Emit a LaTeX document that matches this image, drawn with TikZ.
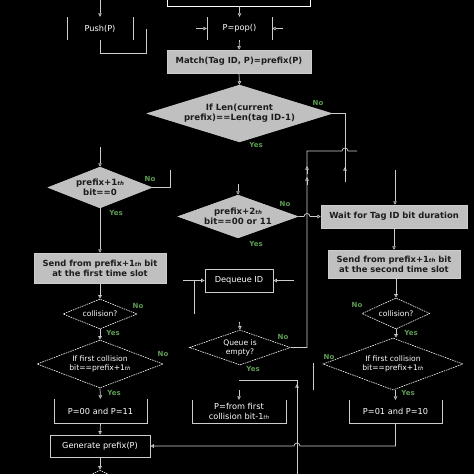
\documentclass[tikz,border=0pt]{standalone}
\usepackage{fontspec}
\setmainfont{DejaVu Sans}
\usetikzlibrary{shapes.geometric,arrows.meta}
\definecolor{boxgray}{RGB}{192,192,192}
\definecolor{linegray}{RGB}{205,205,205}
\definecolor{lblgreen}{RGB}{95,155,85}
\definecolor{txtdark}{RGB}{28,28,28}
\newcommand{\thsup}{{\fontsize{5.5}{5.5}\selectfont\itshape th}}
\begin{document}
\begin{tikzpicture}[x=1pt,y=-1pt,
  conn/.style={draw=linegray,line width=0.7pt},
  arr/.style={conn,-{Triangle[open,length=3.5pt,width=3.5pt]}},
  graybox/.style={draw=linegray,line width=0.5pt,fill=boxgray,text=txtdark,
    font=\fontsize{8.4}{10}\selectfont\bfseries,inner sep=1pt,align=center},
  darkbox/.style={fill=black,text=white,font=\fontsize{8.2}{9.5}\selectfont,
    inner sep=1pt,align=center},
  graydia/.style={diamond,draw=linegray,line width=0.5pt,fill=boxgray,inner sep=0pt},
  darkdia/.style={diamond,draw=white,line width=0.6pt,dash pattern=on 1.6pt off 0.9pt,
    fill=black,inner sep=0pt},
  gtxt/.style={text=txtdark,font=\fontsize{8.6}{10.2}\selectfont\bfseries,align=center,inner sep=0pt},
  wtxt/.style={text=white,font=\fontsize{7.6}{9}\selectfont,align=center,inner sep=0pt},
  lbl/.style={text=lblgreen,font=\fontsize{7}{7}\selectfont\bfseries,inner sep=0pt}]
\useasboundingbox (0,0) rectangle (474,474);
\fill[black] (0,0) rectangle (474,474);
\clip (0,0) rectangle (474,474);

% ---- top row ----
\node[darkbox,draw=white,line width=0.6pt,minimum width=143pt,minimum height=20pt] (top) at (238.5,-4) {};
\node[darkbox,minimum width=66pt,minimum height=23pt] (push) at (100,28.5) {Push(P)};
\draw[linegray,line width=0.6pt] (push.north west) -- (push.south west) (push.north east) -- (push.south east);
\node[darkbox,minimum width=65pt,minimum height=23pt] (pop) at (239.5,28.5) {P=pop()};
\draw[linegray,line width=0.6pt] (pop.north west) -- (pop.south west) (pop.north east) -- (pop.south east);
\coordinate (pushin) at (100,-2);
\draw[arr] (pushin) -- (push.north);
\coordinate (pa1) at (100,53); \coordinate (pa2) at (146,53); \coordinate (pa3) at (146,29);
\draw[conn] (push.south) -- (pa1) -- (pa2) -- (pa3);
\coordinate (popl) at (196,28.5); \coordinate (popr) at (283,28.5);
\draw[arr] (popl) -- (pop.west);
\draw[arr] (popr) -- (pop.east);
\draw[arr] (top.south -| pop.north) -- (pop.north);

\node[graybox,minimum width=144pt,minimum height=23pt] (match) at (239,61.5) {Match(Tag ID, P)=prefix(P)};
\draw[arr] (pop.south) -- (match.north);

% ---- first decision ----
\node[graydia,minimum width=185pt,minimum height=57pt,
  label={[gtxt]center:If Len(current\\prefix)==Len(tag ID-1)}] (dia1) at (239.5,113.5) {};
\draw[arr] (match.south) -- (dia1.north);
\node[lbl] at (318,103) {No};
\node[lbl] at (256,145) {Yes};
\coordinate (d1a) at (345,113.5); \coordinate (d1b) at (345,182);
\draw[conn] (dia1.east) -- (d1a) -- (d1b);

% ---- left branch ----
\coordinate (d2in) at (100,147);
\node[graydia,minimum width=104pt,minimum height=41pt,
  label={[gtxt]center:prefix+1\thsup\\bit==0}] (dia2) at (100,187.5) {};
\draw[arr] (d2in) -- (dia2.north);
\node[lbl] at (150,179) {No};
\node[lbl] at (116,213) {Yes};
\coordinate (d2a) at (170,187.5); \coordinate (d2b) at (170,170);
\draw[conn] (dia2.east) -- (d2a) -- (d2b);

\node[graybox,minimum width=132pt,minimum height=30pt] (send1) at (100,268)
  {Send from prefix+1\thsup{} bit\\at the first time slot};
\draw[arr] (dia2.south) -- (send1.north);

\node[darkdia,minimum width=74pt,minimum height=30pt,
  label={[wtxt]center:collision?}] (col1) at (100,314) {};
\draw[arr] (send1.south) -- (col1.north);
\node[lbl] at (138,306) {No};
\node[lbl] at (113,333) {Yes};

\node[darkdia,minimum width=126pt,minimum height=48pt,
  label={[wtxt]center:If first collision\\bit==prefix+1\thsup}] (if1) at (100,364) {};
\draw[arr] (col1.south) -- (if1.north);
\node[lbl] at (163,354) {No};
\node[lbl] at (114,393) {Yes};

\node[darkbox,minimum width=93pt,minimum height=24pt] (p00) at (100.5,411) {P=00 and P=11};
\draw[linegray,line width=0.6pt] (p00.north west) -- (p00.south west) -- (p00.south east) -- (p00.north east);
\draw[arr] (if1.south) -- (p00.north);

\node[darkbox,draw=linegray,line width=0.6pt,minimum width=100pt,minimum height=22pt] (gen) at (100,446) {Generate prefix(P)};
\draw[arr] (p00.south) -- (gen.north);
\node[darkdia,minimum width=60pt,minimum height=30pt] (nextd) at (100,485) {};
\draw[arr] (gen.south) -- (nextd.north);

% ---- middle branch ----
\coordinate (d3in) at (238,184);
\node[graydia,minimum width=120pt,minimum height=43pt,
  label={[gtxt]center:prefix+2\thsup\\bit==00 or 11}] (dia3) at (238,216.5) {};
\draw[arr] (d3in) -- (dia3.north);
\node[lbl] at (285,204) {No};
\node[lbl] at (256,244) {Yes};

\node[darkbox,draw=linegray,line width=0.8pt,minimum width=68pt,minimum height=23pt] (deq) at (239,280.5) {Dequeue ID};
\coordinate (dl) at (183,280.5); \coordinate (dlv) at (194,280.5); \coordinate (dlb) at (194,314);
\coordinate (dr) at (294,280.5);
\draw[arr] (dl) -- (deq.west);
\draw[conn] (dlv) -- (dlb);
\draw[arr] (dr) -- (deq.east);

\node[darkdia,minimum width=101pt,minimum height=35pt,
  label={[wtxt]center:Queue is\\empty?}] (q) at (240,347.5) {};
\coordinate (qin) at (239.5,322);
\draw[arr] (qin) -- (q.north);
\node[lbl] at (283,337) {No};
\node[lbl] at (253,369) {Yes};
\coordinate (qa) at (307,347.5); \coordinate (qb) at (307,151); \coordinate (qc) at (357,151);
\draw[conn] (q.east) -- (qa) -- (qb) -- (342,151) arc[start angle=180,end angle=360,radius=3] -- (qc);
\draw[arr] (307,174) -- (307,166);
\draw[arr] (307,185) -- (307,177);
\draw[arr] (345,175) -- (345,167);

\node[darkbox,minimum width=94pt,minimum height=23pt] (pfrom) at (239,411.5) {P=from first\\collision bit-1\thsup};
\draw[linegray,line width=0.6pt] (pfrom.north west) -- (pfrom.south west) -- (pfrom.south east) -- (pfrom.north east);
\coordinate (ya) at (297,476); \coordinate (yb) at (297,380); \coordinate (yc) at (239,380);
\draw[conn] (ya) -- (yb) -- (yc);
\draw[arr] (297,393) -- (297,384);
\coordinate (pfin) at (239,390);
\draw[arr] (pfin) -- (pfrom.north);

% ---- right branch ----
\node[graybox,minimum width=146pt,minimum height=23pt] (wait) at (394,216.5) {Wait for Tag ID bit duration};
\draw[arr] (dia3.east) -- (304,216.5) arc[start angle=180,end angle=360,radius=3] -- (wait.west);
\coordinate (win) at (395,170);
\draw[arr] (win) -- (wait.north -| win);

\node[graybox,minimum width=132pt,minimum height=28pt] (send2) at (394,264)
  {Send from prefix+1\thsup{} bit\\at the second time slot};
\draw[arr] (wait.south) -- (send2.north);

\node[darkdia,minimum width=68pt,minimum height=31pt,
  label={[wtxt]center:collision?}] (col2) at (396,313.5) {};
\draw[arr] (send2.south -| col2.north) -- (col2.north);
\node[lbl] at (357,305) {No};
\node[lbl] at (411,333) {Yes};

\node[darkdia,minimum width=140pt,minimum height=52pt,
  label={[wtxt]center:If first collision\\bit==prefix+1\thsup}] (if2) at (393,364) {};
\draw[arr] (col2.south) -- (col2.south |- if2.north);
\node[lbl] at (329,357) {No};
\node[lbl] at (408,393) {Yes};
\coordinate (ifa) at (313,363); \coordinate (ifb) at (313,390);
\draw[conn] (ifa) -- (ifb);

\node[darkbox,minimum width=93pt,minimum height=23pt] (p01) at (395.5,411.5) {P=01 and P=10};
\draw[linegray,line width=0.6pt] (p01.north west) -- (p01.south west) -- (p01.south east) -- (p01.north east);
\draw[arr] (p01.north |- if2.south) -- (p01.north);
\coordinate (pb) at (395.5,446);
\draw[arr] (p01.south) -- (pb) -- (300,446) arc[start angle=0,end angle=-180,radius=3] -- (gen.east);
\end{tikzpicture}
\end{document}
